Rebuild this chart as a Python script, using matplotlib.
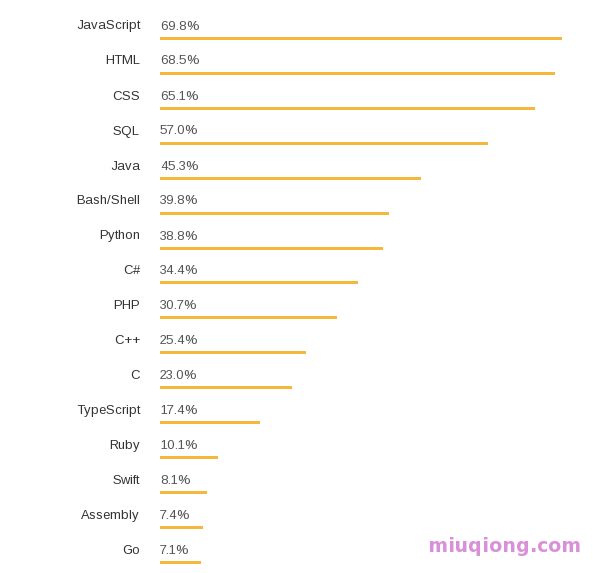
import matplotlib.pyplot as plt

languages = ["JavaScript", "HTML", "CSS", "SQL", "Java", "Bash/Shell", "Python", "C#",
             "PHP", "C++", "C", "TypeScript", "Ruby", "Swift", "Assembly", "Go"]
percent = [69.8, 68.5, 65.1, 57.0, 45.3, 39.8, 38.8, 34.4,
           30.7, 25.4, 23.0, 17.4, 10.1, 8.1, 7.4, 7.1]

plt.rcParams["text.hinting_factor"] = 1

W, H = 593, 573
fig = plt.figure(figsize=(W / 100, H / 100), dpi=100)
# axes from the bar start (x=160px) to the right edge, full height
ax = fig.add_axes([160 / W, 0, 1 - 160 / W, 1])
px_per_pct = 5.76
row = 35.0
ax.set_xlim(0, (W - 160) / px_per_pct)
ax.set_ylim((H - 38) / row, -38 / row)
ax.axis("off")

rows = range(len(languages))
ax.barh(list(rows), percent, height=3 / row, color="#f5b83d", left=0)

for i, (lang, p) in enumerate(zip(languages, percent)):
    ax.text(0, i - 11.5 / row, f"{p:.1f}%", ha="left", va="center",
            fontsize=9.5, color="#555555", family="Liberation Sans")
    ax.text(-20 / px_per_pct, i - 11.5 / row, lang, ha="right", va="center",
            fontsize=9.5, color="#333333", family="Liberation Sans", clip_on=False)

fig.text(504 / W, 1 - 546 / H, "miuqiong.com", ha="center", va="center",
         fontsize=14, fontweight="bold", color="#d990d9", family="DejaVu Sans")

fig.savefig("out.png", dpi=100)
